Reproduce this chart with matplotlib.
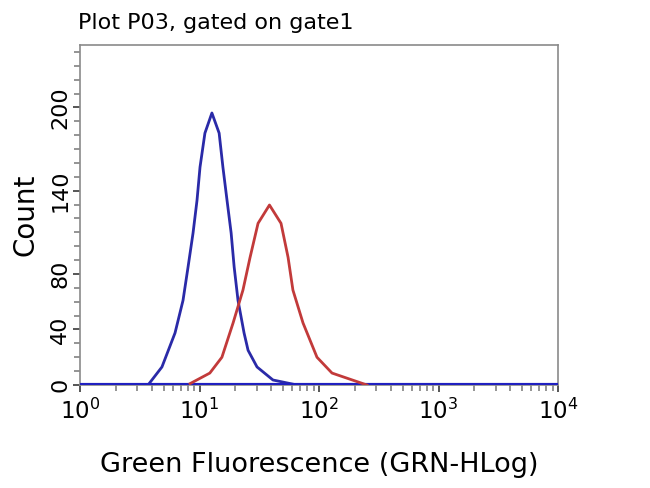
import numpy as np
import matplotlib
matplotlib.use("Agg")
import matplotlib.pyplot as plt
from matplotlib.ticker import FixedLocator, LogLocator, NullFormatter

# # # # # # # # # # # # # # # # # # # # # # # # # # # # # # # # # # # # # # #
# values

# blue (control) - GRN-HLog channel vs count
blue_x = [1.0, 3.71, 4.85, 6.24, 7.28, 8.02, 8.83, 9.53, 10.1, 11.1, 12.7,
          14.6, 15.7, 17.0, 18.4, 19.5, 21.0, 23.6, 25.5, 30.3, 41.2, 65.5, 10000.0]
blue_y = [0, 0, 13, 37.5, 61, 85, 109.5, 133, 157, 181.5, 196,
          181.5, 157, 133, 109.5, 85, 61, 37.5, 25, 13, 3.6, 0, 0]

# red (stained)
red_x = [8.34, 12.2, 15.4, 19.1, 23.1, 26.5, 30.9, 38.5, 48.1, 55.1,
         60.5, 73.5, 96.2, 128.5, 252.0]
red_y = [1, 8.6, 20, 44.7, 68.4, 92, 116.5, 129.7, 116.5, 92,
         68.4, 44.7, 20, 8.6, 0]

y_ticks = [0, 40, 80, 140, 200]
x_ticks = [1, 10, 100, 1000, 10000]
x_labels = ["$10^{0}$", "$10^{1}$", "$10^{2}$", "$10^{3}$", "$10^{4}$"]

# # # # # # # # # # # # # # # # # # # # # # # # # # # # # # # # # # # # # # #

plt.rcParams['font.family'] = ['DejaVu Sans']

fig = plt.figure(figsize=(6.5, 4.88), dpi=100)
ax = fig.add_axes([80 / 650, 103 / 488, 478 / 650, 340 / 488])

ax.plot(blue_x, blue_y, color='#2a2aa8', lw=2.0)
ax.axhline(0, color='#2020c0', lw=3.0, zorder=3)
ax.plot(red_x, red_y, color='#c23a3a', lw=2.0, zorder=4)

ax.set_xscale('log')
ax.set_xlim(1, 10000)
ax.set_ylim(0, 245)

ax.set_xticks(x_ticks)
ax.set_xticklabels(x_labels, fontsize=16.5)
ax.xaxis.set_minor_locator(LogLocator(base=10, subs=np.arange(2, 10)))
ax.xaxis.set_minor_formatter(NullFormatter())

ax.set_yticks(y_ticks)
ax.set_yticklabels([str(v) for v in y_ticks], fontsize=16, rotation=90, va='center')
ax.yaxis.set_minor_locator(FixedLocator(np.arange(0, 246, 10)))

for s in ax.spines.values():
    s.set_color('#8a8a8a')
    s.set_linewidth(1.2)

ax.tick_params(axis='both', which='major', length=5, width=1.4, color='#555555')
ax.tick_params(axis='both', which='minor', length=4, width=1.1, color='#777777')
ax.tick_params(axis='y', which='major', pad=2)
ax.tick_params(axis='x', which='major', pad=5)

ax.set_xlabel("Green Fluorescence (GRN-HLog)", fontsize=19.5, labelpad=20)
ax.set_ylabel("Count", fontsize=20, labelpad=8)

fig.text(78 / 650, 1 - 23 / 488, "Plot P03, gated on gate1", fontsize=16, va='center', ha='left')

fig.savefig("out.png", dpi=100)
